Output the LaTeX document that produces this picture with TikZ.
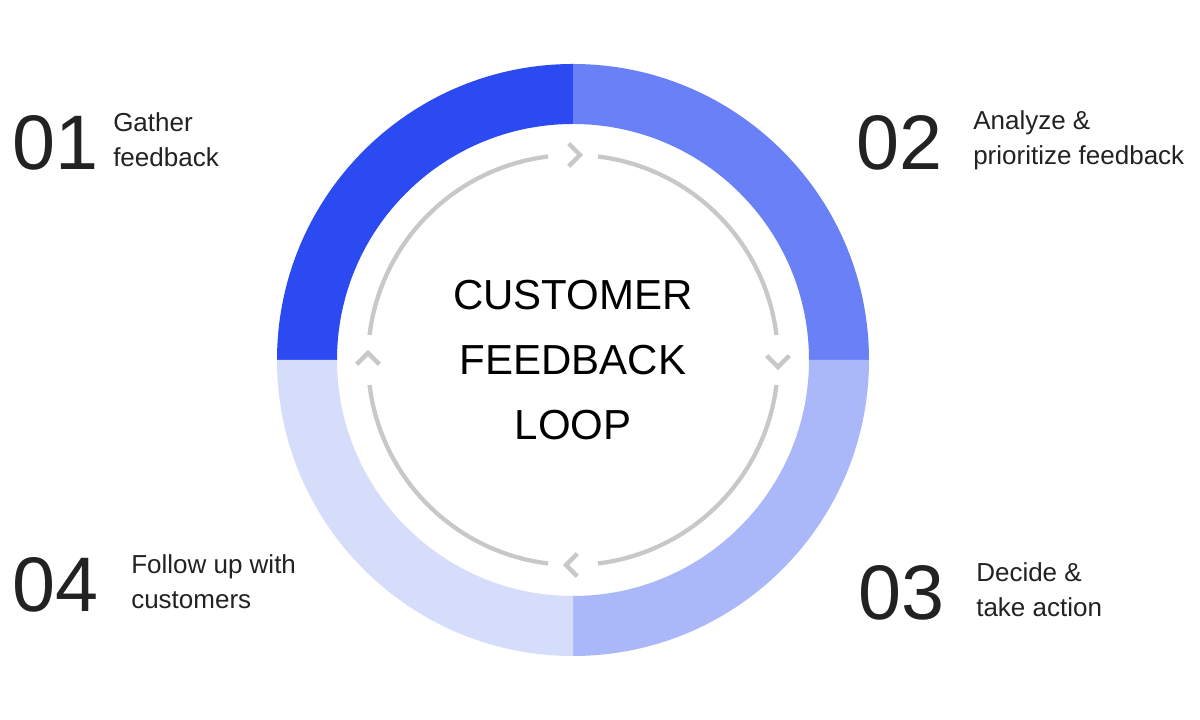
\documentclass[tikz,border=0pt]{standalone}
\usepackage{fontspec}
\setmainfont{Liberation Sans}
\definecolor{cA}{HTML}{2C4AF2}
\definecolor{cB}{HTML}{6A80F6}
\definecolor{cC}{HTML}{AAB8F9}
\definecolor{cD}{HTML}{D6DDFB}
\definecolor{gr}{HTML}{C8C8C8}
\definecolor{tx}{HTML}{222222}
\begin{document}
\begin{tikzpicture}[x=0.75pt,y=0.75pt,
  num/.style={anchor=west,inner sep=0pt,text=tx,font=\fontsize{58}{58}\selectfont},
  lab/.style={anchor=west,inner sep=0pt,text=tx,align=left,font=\fontsize{19.5}{26}\selectfont},
  loop/.style={draw=gr,line width=3.2pt},
  chev/.style={draw=gr,line width=3.2pt,line cap=butt,line join=miter}]
\useasboundingbox (0,0) rectangle (1200,720);
\fill[white] (0,0) rectangle (1200,720);
\coordinate (C) at (573,360);
\def\seg#1#2#3{\fill[#3] ([shift={(#1:296)}]C) arc[start angle=#1,end angle=#2,radius=296] -- ([shift={(#2:236)}]C) arc[start angle=#2,end angle=#1,radius=236] -- cycle;}
\seg{90}{180}{cA}
\seg{0}{90}{cB}
\seg{-90}{0}{cC}
\seg{180}{270}{cD}
\foreach \a in {0,90,180,270}{
  \draw[loop] ([shift={(\a+7:205)}]C) arc[start angle=\a+7,end angle=\a+83,radius=205];
  \draw[chev] ([shift={(\a:205)}]C) ++(\a-90:7) ++(\a+45:16) -- ++(\a-135:16) -- ++(\a+135:16);
}
\node[align=center,text=black,font=\fontsize{31.5}{49}\selectfont] (title) at (C) {CUSTOMER\\FEEDBACK\\LOOP};
\node[num] (n1) at (12,577) {01};
\node[lab] (l1) at (113,580) {Gather\\feedback};
\node[num] (n2) at (856,577) {02};
\node[lab] (l2) at (973,580) {Analyze \&\\prioritize feedback};
\node[num] (n3) at (858,127) {03};
\node[lab] (l3) at (976,130) {Decide \&\\take action};
\node[num] (n4) at (12,135) {04};
\node[lab] (l4) at (131,138) {Follow up with\\customers};
\end{tikzpicture}
\end{document}
